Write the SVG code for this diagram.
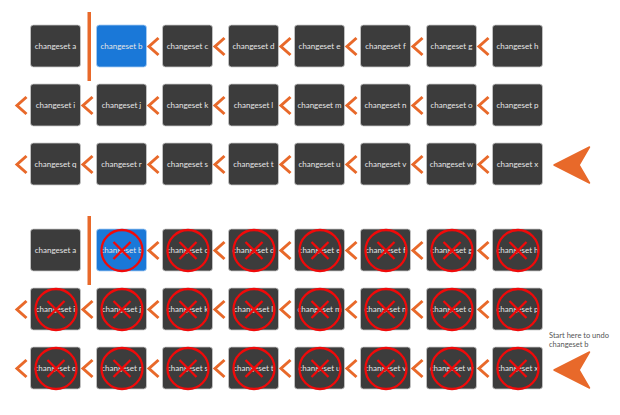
<svg xmlns="http://www.w3.org/2000/svg" width="620" height="415" viewBox="0 0 620 415">
<defs>
<style>
.box{fill:#3c3c3c;stroke:#c9c9c9;stroke-width:0.8}
.sel{fill:#1a78d8;stroke:#a9cdf2;stroke-width:0.8}
.lbl{font-family:Lato,"Open Sans",sans-serif;font-size:8px;fill:#e6e6e6;text-anchor:middle}
.chev{fill:none;stroke:#e8692a;stroke-width:3;stroke-linecap:butt;stroke-linejoin:miter}
.bar{fill:#e8692a}
.big{fill:#e8692a;stroke:#e8692a;stroke-width:1.5;stroke-linejoin:round}
.cross{fill:none;stroke:#f00a0a;stroke-width:2.3}
.note{font-family:Lato,"Open Sans",sans-serif;font-size:7.5px;fill:#555}
</style>
<path id="ch" class="chev" d="M9.5,-8.5 L0,0 L9.5,8.5"/>
<g id="x"><circle class="cross" cx="0" cy="0" r="20.5"/><path class="cross" d="M-8.5,-8.5 L8.5,8.5 M8.5,-8.5 L-8.5,8.5"/></g>
</defs>
<rect width="620" height="415" fill="#fff"/>

<!-- TOP SECTION -->
<g id="top-a"><rect class="box" x="30.5" y="25" width="50" height="42" rx="3"/><text class="lbl" x="55.5" y="48.5">changeset a</text></g>
<g id="top-b"><rect class="sel" x="96.5" y="25" width="50" height="42" rx="3"/><text class="lbl" x="121.5" y="48.5">changeset b</text></g>
<g id="top-c"><rect class="box" x="162.5" y="25" width="50" height="42" rx="3"/><text class="lbl" x="187.5" y="48.5">changeset c</text></g>
<g id="top-d"><rect class="box" x="228.5" y="25" width="50" height="42" rx="3"/><text class="lbl" x="253.5" y="48.5">changeset d</text></g>
<g id="top-e"><rect class="box" x="294.5" y="25" width="50" height="42" rx="3"/><text class="lbl" x="319.5" y="48.5">changeset e</text></g>
<g id="top-f"><rect class="box" x="360.5" y="25" width="50" height="42" rx="3"/><text class="lbl" x="385.5" y="48.5">changeset f</text></g>
<g id="top-g"><rect class="box" x="426.5" y="25" width="50" height="42" rx="3"/><text class="lbl" x="451.5" y="48.5">changeset g</text></g>
<g id="top-h"><rect class="box" x="492.5" y="25" width="50" height="42" rx="3"/><text class="lbl" x="517.5" y="48.5">changeset h</text></g>

<g id="top-i"><rect class="box" x="30.5" y="84" width="50" height="42" rx="3"/><text class="lbl" x="55.5" y="107.5">changeset i</text></g>
<g id="top-j"><rect class="box" x="96.5" y="84" width="50" height="42" rx="3"/><text class="lbl" x="121.5" y="107.5">changeset j</text></g>
<g id="top-k"><rect class="box" x="162.5" y="84" width="50" height="42" rx="3"/><text class="lbl" x="187.5" y="107.5">changeset k</text></g>
<g id="top-l"><rect class="box" x="228.5" y="84" width="50" height="42" rx="3"/><text class="lbl" x="253.5" y="107.5">changeset l</text></g>
<g id="top-m"><rect class="box" x="294.5" y="84" width="50" height="42" rx="3"/><text class="lbl" x="319.5" y="107.5">changeset m</text></g>
<g id="top-n"><rect class="box" x="360.5" y="84" width="50" height="42" rx="3"/><text class="lbl" x="385.5" y="107.5">changeset n</text></g>
<g id="top-o"><rect class="box" x="426.5" y="84" width="50" height="42" rx="3"/><text class="lbl" x="451.5" y="107.5">changeset o</text></g>
<g id="top-p"><rect class="box" x="492.5" y="84" width="50" height="42" rx="3"/><text class="lbl" x="517.5" y="107.5">changeset p</text></g>

<g id="top-q"><rect class="box" x="30.5" y="143" width="50" height="42" rx="3"/><text class="lbl" x="55.5" y="166.5">changeset q</text></g>
<g id="top-r"><rect class="box" x="96.5" y="143" width="50" height="42" rx="3"/><text class="lbl" x="121.5" y="166.5">changeset r</text></g>
<g id="top-s"><rect class="box" x="162.5" y="143" width="50" height="42" rx="3"/><text class="lbl" x="187.5" y="166.5">changeset s</text></g>
<g id="top-t"><rect class="box" x="228.5" y="143" width="50" height="42" rx="3"/><text class="lbl" x="253.5" y="166.5">changeset t</text></g>
<g id="top-u"><rect class="box" x="294.5" y="143" width="50" height="42" rx="3"/><text class="lbl" x="319.5" y="166.5">changeset u</text></g>
<g id="top-v"><rect class="box" x="360.5" y="143" width="50" height="42" rx="3"/><text class="lbl" x="385.5" y="166.5">changeset v</text></g>
<g id="top-w"><rect class="box" x="426.5" y="143" width="50" height="42" rx="3"/><text class="lbl" x="451.5" y="166.5">changeset w</text></g>
<g id="top-x"><rect class="box" x="492.5" y="143" width="50" height="42" rx="3"/><text class="lbl" x="517.5" y="166.5">changeset x</text></g>

<!-- BOTTOM SECTION -->
<g id="bot-a"><rect class="box" x="30.5" y="229" width="50" height="42" rx="3"/><text class="lbl" x="55.5" y="252.5">changeset a</text></g>
<g id="bot-b"><rect class="sel" x="96.5" y="229" width="50" height="42" rx="3"/><text class="lbl" x="121.5" y="252.5">changeset b</text><use href="#x" x="122" y="250.5"/></g>
<g id="bot-c"><rect class="box" x="162.5" y="229" width="50" height="42" rx="3"/><text class="lbl" x="187.5" y="252.5">changeset c</text><use href="#x" x="188" y="250.5"/></g>
<g id="bot-d"><rect class="box" x="228.5" y="229" width="50" height="42" rx="3"/><text class="lbl" x="253.5" y="252.5">changeset d</text><use href="#x" x="254" y="250.5"/></g>
<g id="bot-e"><rect class="box" x="294.5" y="229" width="50" height="42" rx="3"/><text class="lbl" x="319.5" y="252.5">changeset e</text><use href="#x" x="320" y="250.5"/></g>
<g id="bot-f"><rect class="box" x="360.5" y="229" width="50" height="42" rx="3"/><text class="lbl" x="385.5" y="252.5">changeset f</text><use href="#x" x="386" y="250.5"/></g>
<g id="bot-g"><rect class="box" x="426.5" y="229" width="50" height="42" rx="3"/><text class="lbl" x="451.5" y="252.5">changeset g</text><use href="#x" x="452" y="250.5"/></g>
<g id="bot-h"><rect class="box" x="492.5" y="229" width="50" height="42" rx="3"/><text class="lbl" x="517.5" y="252.5">changeset h</text><use href="#x" x="518" y="250.5"/></g>

<g id="bot-i"><rect class="box" x="30.5" y="288" width="50" height="42" rx="3"/><text class="lbl" x="55.5" y="311.5">changeset i</text><use href="#x" x="56" y="309.5"/></g>
<g id="bot-j"><rect class="box" x="96.5" y="288" width="50" height="42" rx="3"/><text class="lbl" x="121.5" y="311.5">changeset j</text><use href="#x" x="122" y="309.5"/></g>
<g id="bot-k"><rect class="box" x="162.5" y="288" width="50" height="42" rx="3"/><text class="lbl" x="187.5" y="311.5">changeset k</text><use href="#x" x="188" y="309.5"/></g>
<g id="bot-l"><rect class="box" x="228.5" y="288" width="50" height="42" rx="3"/><text class="lbl" x="253.5" y="311.5">changeset l</text><use href="#x" x="254" y="309.5"/></g>
<g id="bot-m"><rect class="box" x="294.5" y="288" width="50" height="42" rx="3"/><text class="lbl" x="319.5" y="311.5">changeset m</text><use href="#x" x="320" y="309.5"/></g>
<g id="bot-n"><rect class="box" x="360.5" y="288" width="50" height="42" rx="3"/><text class="lbl" x="385.5" y="311.5">changeset n</text><use href="#x" x="386" y="309.5"/></g>
<g id="bot-o"><rect class="box" x="426.5" y="288" width="50" height="42" rx="3"/><text class="lbl" x="451.5" y="311.5">changeset o</text><use href="#x" x="452" y="309.5"/></g>
<g id="bot-p"><rect class="box" x="492.5" y="288" width="50" height="42" rx="3"/><text class="lbl" x="517.5" y="311.5">changeset p</text><use href="#x" x="518" y="309.5"/></g>

<g id="bot-q"><rect class="box" x="30.5" y="347" width="50" height="42" rx="3"/><text class="lbl" x="55.5" y="370.5">changeset q</text><use href="#x" x="56" y="368.5"/></g>
<g id="bot-r"><rect class="box" x="96.5" y="347" width="50" height="42" rx="3"/><text class="lbl" x="121.5" y="370.5">changeset r</text><use href="#x" x="122" y="368.5"/></g>
<g id="bot-s"><rect class="box" x="162.5" y="347" width="50" height="42" rx="3"/><text class="lbl" x="187.5" y="370.5">changeset s</text><use href="#x" x="188" y="368.5"/></g>
<g id="bot-t"><rect class="box" x="228.5" y="347" width="50" height="42" rx="3"/><text class="lbl" x="253.5" y="370.5">changeset t</text><use href="#x" x="254" y="368.5"/></g>
<g id="bot-u"><rect class="box" x="294.5" y="347" width="50" height="42" rx="3"/><text class="lbl" x="319.5" y="370.5">changeset u</text><use href="#x" x="320" y="368.5"/></g>
<g id="bot-v"><rect class="box" x="360.5" y="347" width="50" height="42" rx="3"/><text class="lbl" x="385.5" y="370.5">changeset v</text><use href="#x" x="386" y="368.5"/></g>
<g id="bot-w"><rect class="box" x="426.5" y="347" width="50" height="42" rx="3"/><text class="lbl" x="451.5" y="370.5">changeset w</text><use href="#x" x="452" y="368.5"/></g>
<g id="bot-x"><rect class="box" x="492.5" y="347" width="50" height="42" rx="3"/><text class="lbl" x="517.5" y="370.5">changeset x</text><use href="#x" x="518" y="368.5"/></g>

<!-- CONNECTORS -->
<g id="connectors">
<g id="top-chevrons">
<use href="#ch" x="149" y="46.5"/><use href="#ch" x="215" y="46.5"/><use href="#ch" x="281" y="46.5"/><use href="#ch" x="347" y="46.5"/><use href="#ch" x="413" y="46.5"/><use href="#ch" x="479" y="46.5"/>
<use href="#ch" x="17" y="105.5"/><use href="#ch" x="83" y="105.5"/><use href="#ch" x="149" y="105.5"/><use href="#ch" x="215" y="105.5"/><use href="#ch" x="281" y="105.5"/><use href="#ch" x="347" y="105.5"/><use href="#ch" x="413" y="105.5"/><use href="#ch" x="479" y="105.5"/>
<use href="#ch" x="17" y="164.5"/><use href="#ch" x="83" y="164.5"/><use href="#ch" x="149" y="164.5"/><use href="#ch" x="215" y="164.5"/><use href="#ch" x="281" y="164.5"/><use href="#ch" x="347" y="164.5"/><use href="#ch" x="413" y="164.5"/><use href="#ch" x="479" y="164.5"/>
</g>
<g id="bottom-chevrons">
<use href="#ch" x="149" y="250.5"/><use href="#ch" x="215" y="250.5"/><use href="#ch" x="281" y="250.5"/><use href="#ch" x="347" y="250.5"/><use href="#ch" x="413" y="250.5"/><use href="#ch" x="479" y="250.5"/>
<use href="#ch" x="17" y="309.5"/><use href="#ch" x="83" y="309.5"/><use href="#ch" x="149" y="309.5"/><use href="#ch" x="215" y="309.5"/><use href="#ch" x="281" y="309.5"/><use href="#ch" x="347" y="309.5"/><use href="#ch" x="413" y="309.5"/><use href="#ch" x="479" y="309.5"/>
<use href="#ch" x="17" y="368.5"/><use href="#ch" x="83" y="368.5"/><use href="#ch" x="149" y="368.5"/><use href="#ch" x="215" y="368.5"/><use href="#ch" x="281" y="368.5"/><use href="#ch" x="347" y="368.5"/><use href="#ch" x="413" y="368.5"/><use href="#ch" x="479" y="368.5"/>
</g>
</g>

<!-- markers -->
<g id="top-divider"><rect class="bar" x="87.5" y="12" width="3.5" height="69"/></g>
<g id="bottom-divider"><rect class="bar" x="87.5" y="216" width="3.5" height="69"/></g>
<g id="top-start-arrow"><path class="big" d="M554,165 L589.5,147 L579,165 L589.5,183 Z"/></g>
<g id="bottom-start-arrow"><path class="big" d="M554,370 L589.5,352 L579,370 L589.5,388 Z"/></g>
<g id="note"><text class="note" x="549" y="338">Start here to undo</text><text class="note" x="549" y="346.5">changeset b</text></g>
</svg>
